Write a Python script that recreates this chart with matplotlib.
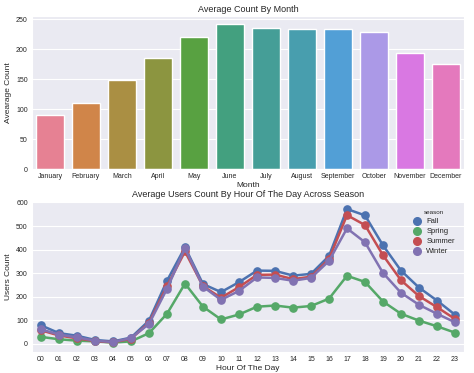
import matplotlib
matplotlib.use('Agg')
import matplotlib.pyplot as plt
from matplotlib.lines import Line2D
import seaborn as sns
import pandas as pd

# Monthly average counts
months = ['January', 'February', 'March', 'April', 'May', 'June', 'July',
          'August', 'September', 'October', 'November', 'December']
month_avg = [90.4, 110.0, 148.2, 184.2, 219.5, 242.0, 235.3, 234.1, 233.8, 227.7, 193.7, 175.6]

# Hourly average counts by season
hours = ['%02d' % h for h in range(24)]
seasons = ['Fall', 'Spring', 'Summer', 'Winter']
fall = [79, 46, 35, 17, 11, 27, 99, 268, 410, 254, 220, 262,
        311, 310, 290, 297, 373, 572, 545, 418, 311, 239, 184, 124]
spring = [30, 20, 14, 11, 6, 11, 46, 128, 256, 158, 104, 125,
          158, 163, 154, 161, 192, 289, 263, 180, 128, 99, 75, 48]
summer = [58, 36, 24, 12, 7, 22, 90, 245, 392, 245, 196, 241,
          293, 294, 275, 285, 360, 546, 504, 376, 270, 203, 156, 106]
winter = [62, 40, 28, 14, 8, 25, 85, 234, 406, 243, 187, 225,
          282, 280, 268, 280, 352, 490, 431, 301, 217, 166, 128, 92]
season_colors = ['#4C72B0', '#55A868', '#C44E52', '#8172B2']

sns.set_style('darkgrid')
plt.rcParams['font.family'] = ['Liberation Sans', 'DejaVu Sans']

fig = plt.figure(figsize=(4.74, 3.73), dpi=100)
ax1 = fig.add_axes([32 / 474, 1 - 169 / 373, 432 / 474, 153 / 373])
ax2 = fig.add_axes([32 / 474, 1 - 352 / 373, 432 / 474, 151 / 373])

df_month = pd.DataFrame({'month': months, 'count': month_avg})
sns.barplot(data=df_month, x='month', y='count', hue='month',
            palette=sns.color_palette('husl', 12), legend=False, ax=ax1)
ax1.set_ylim(0, 255)
ax1.set_title('Average Count By Month', fontsize=6.5, pad=3)
ax1.set_xlabel('Month', fontsize=6, labelpad=1)
ax1.set_ylabel('Avearage Count', fontsize=6, labelpad=3)

for name, vals, c in zip(seasons, [fall, spring, summer, winter], season_colors):
    ax2.plot(range(24), vals, color=c, lw=1.8, marker='o', ms=5.2, label=name)
ax2.set_xticks(range(24))
ax2.set_xticklabels(hours)
ax2.set_xlim(-0.5, 23.5)
ax2.set_ylim(-34, 606)
ax2.set_title('Average Users Count By Hour Of The Day Across Season', fontsize=6.5, pad=3)
ax2.set_xlabel('Hour Of The Day', fontsize=6, labelpad=1)
ax2.set_ylabel('Users Count', fontsize=6, labelpad=3)

# legend shows markers only, like seaborn pointplot
handles = [Line2D([], [], color=c, marker='o', ms=5.5, ls='') for c in season_colors]
ax2.legend(handles, seasons, title='season', loc='upper right', fontsize=5.5,
           title_fontsize=4.5, frameon=False, handlelength=1.2, handletextpad=0.6,
           labelspacing=0.35, borderaxespad=0.8)

for ax in (ax1, ax2):
    ax.xaxis.grid(False)
    ax.tick_params(labelsize=5, length=0, pad=3)

fig.savefig('out.png', dpi=100)
